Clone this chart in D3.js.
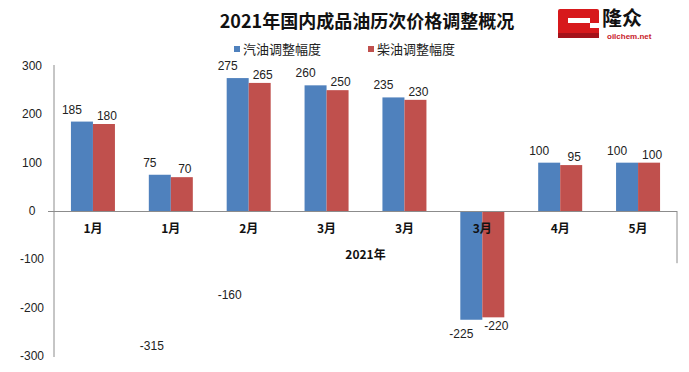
<!DOCTYPE html>
<html>
<head>
<meta charset="utf-8">
<style>
	body { margin: 0; background: #fff; }
	text { font-family: "Liberation Sans", Arial, sans-serif; }
	.cjk { font-family: "Noto Sans CJK SC", sans-serif; }
</style>
</head>
<body>
<svg width="689" height="372"></svg>
<script src="https://d3js.org/d3.v7.min.js"></script>
<script>
	const categories = ["1月", "1月", "2月", "3月", "3月", "3月", "4月", "5月"];
	const gasoline = [185, 75, 275, 260, 235, -225, 100, 100];
	const diesel = [180, 70, 265, 250, 230, -220, 95, 100];
	const seriesNames = ["汽油调整幅度", "柴油调整幅度"];
	const yTicks = [300, 200, 100, 0, -100, -200, -300];
	// stray data labels left in the original chart (no bars drawn)
	const strayLabels = [
		{ index: 1, value: -315 },
		{ index: 2, value: -160 },
	];
	const xTitle = "2021年";
	const title = "2021年国内成品油历次价格调整概况";

	const colors = ["#4F81BD", "#C0504D"];
	const svg = d3.select("svg");
	const margin = { top: 66, right: 12, bottom: 16, left: 54 }; // plot area

	const x = d3.scaleBand()
		.domain(d3.range(categories.length))
		.range([margin.left, 677])
		.paddingInner(0.435)
		.paddingOuter(0.2175);
	const xs = d3.scaleBand().domain([0, 1]).range([0, x.bandwidth()]);
	const y = d3.scaleLinear().domain([-300, 300]).range([356, 66]);

	// title
	svg.append("text")
		.attr("class", "cjk")
		.attr("x", 367)
		.attr("y", 28)
		.attr("text-anchor", "middle")
		.style("font-size", "18px")
		.style("font-weight", "bold")
		.attr("fill", "#111")
		.text(title);

	// legend
	const lg = svg.append("g");
	const legendX = [234, 368];
	seriesNames.forEach((name, i) => {
		lg.append("rect")
			.attr("x", legendX[i])
			.attr("y", 46)
			.attr("width", 6)
			.attr("height", 6)
			.attr("fill", colors[i]);
		lg.append("text")
			.attr("class", "cjk")
			.attr("x", legendX[i] + 9)
			.attr("y", 54)
			.style("font-size", "13px")
			.attr("fill", "#222")
			.text(name);
	});

	// logo
	const logo = svg.append("g");
	logo.append("rect").attr("x", 558).attr("y", 9).attr("width", 41).attr("height", 29).attr("rx", 2).attr("fill", "#D7191C");
	logo.append("rect").attr("x", 568).attr("y", 18).attr("width", 22).attr("height", 5).attr("fill", "#fff");
	logo.append("rect").attr("x", 590).attr("y", 23).attr("width", 9).attr("height", 5).attr("fill", "#fff");
	logo.append("rect").attr("x", 558).attr("y", 33).attr("width", 41).attr("height", 5).attr("fill", "#A5121A");
	logo.append("text")
		.attr("class", "cjk")
		.attr("x", 602)
		.attr("y", 26)
		.style("font-size", "20px")
		.style("font-weight", "bold")
		.attr("fill", "#111")
		.text("隆众");
	logo.append("text")
		.attr("x", 607)
		.attr("y", 39)
		.style("font-size", "8px")
		.style("font-weight", "bold")
		.attr("fill", "#C8202A")
		.text("oilchem.net");

	// y axis labels
	svg.append("g")
		.selectAll("text")
		.data(yTicks)
		.join("text")
		.attr("x", 32)
		.attr("y", (d) => y(d) + 4)
		.attr("text-anchor", "middle")
		.style("font-size", "12px")
		.attr("fill", "#222")
		.text((d) => d);

	// bars
	const series = [gasoline, diesel];
	const bg = svg.append("g");
	series.forEach((vals, s) => {
		bg.selectAll(".bar" + s)
			.data(vals)
			.join("rect")
			.attr("class", "bar" + s)
			.attr("x", (d, i) => x(i) + xs(s))
			.attr("width", xs.bandwidth())
			.attr("y", (d) => y(Math.max(0, d)))
			.attr("height", (d) => Math.abs(y(d) - y(0)))
			.attr("fill", colors[s]);
	});

	// axis lines
	const axisColor = "#8c8c8c";
	svg.append("line")
		.attr("x1", margin.left).attr("x2", margin.left)
		.attr("y1", y(300) - 1).attr("y2", y(-300) + 1)
		.attr("stroke", axisColor);
	svg.append("line")
		.attr("x1", 48).attr("x2", 677)
		.attr("y1", y(0) + 0.5).attr("y2", y(0) + 0.5)
		.attr("stroke", axisColor);
	svg.append("line")
		.attr("x1", 677).attr("x2", 677)
		.attr("y1", y(0)).attr("y2", y(-108))
		.attr("stroke", axisColor);

	// category labels
	svg.append("g")
		.selectAll("text")
		.data(categories)
		.join("text")
		.attr("class", "cjk")
		.attr("x", (d, i) => x(i) + x.bandwidth() / 2)
		.attr("y", y(0) + 22)
		.attr("text-anchor", "middle")
		.style("font-size", "12px")
		.style("font-weight", "bold")
		.attr("fill", "#111")
		.text((d) => d);

	svg.append("text")
		.attr("class", "cjk")
		.attr("x", (margin.left + 677) / 2)
		.attr("y", y(0) + 48)
		.attr("text-anchor", "middle")
		.style("font-size", "12px")
		.style("font-weight", "bold")
		.attr("fill", "#111")
		.text(xTitle);

	// value labels (offsets mimic the excel placement)
	const labelDx = [-10, 3];
	const labelUp = [8, 4];
	const labelDown = [18, 13];
	const lab = svg.append("g");
	series.forEach((vals, s) => {
		lab.selectAll(".lab" + s)
			.data(vals)
			.join("text")
			.attr("class", "lab" + s)
			.attr("x", (d, i) => x(i) + xs(s) + xs.bandwidth() / 2 + labelDx[s])
			.attr("y", (d) => (d >= 0 ? y(d) - labelUp[s] : y(d) + labelDown[s]))
			.attr("text-anchor", "middle")
			.style("font-size", "12px")
			.attr("fill", "#222")
			.text((d) => d);
	});

	lab.selectAll(".stray")
		.data(strayLabels)
		.join("text")
		.attr("class", "stray")
		.attr("x", (d) => x(d.index) + xs(0) + xs.bandwidth() / 2 - 8)
		.attr("y", (d) => Math.min(y(d.value) + 11, y(-300) - 6))
		.attr("text-anchor", "middle")
		.style("font-size", "12px")
		.attr("fill", "#222")
		.text((d) => d.value);
</script>
</body>
</html>
